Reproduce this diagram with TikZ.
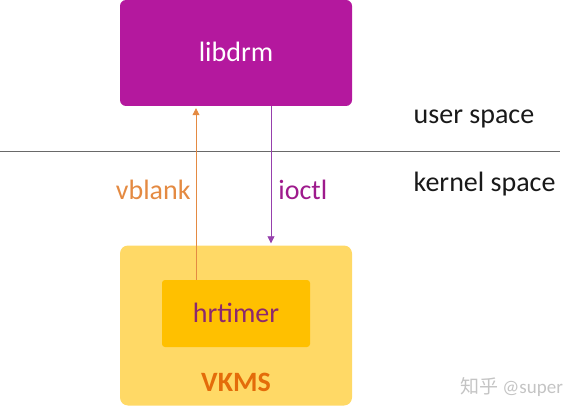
\documentclass[tikz,border=0pt]{standalone}
\usepackage{fontspec}
\setmainfont{Carlito}
\newfontfamily\cjkfont{Noto Sans CJK SC}
\usepackage{tikz}
\usetikzlibrary{arrows,arrows.meta,backgrounds}
\usepackage{xcolor}
\definecolor{drm-magenta}{RGB}{180,24,158}
\definecolor{vkms-yellow}{RGB}{255,217,102}
\definecolor{timer-gold}{RGB}{255,192,0}
\definecolor{vblank-orange}{RGB}{228,138,66}
\definecolor{ioctl-purple}{RGB}{150,64,172}
\definecolor{ioctl-text}{RGB}{158,26,140}
\definecolor{timer-text}{RGB}{140,40,110}
\definecolor{vkms-text}{RGB}{228,108,10}
\definecolor{split-gray}{RGB}{105,105,105}
\definecolor{mark-gray}{RGB}{196,196,196}
\tikzstyle{userbox}=[fill=drm-magenta, rounded corners=6pt, minimum width=232pt, minimum height=106pt, inner sep=0pt]
\tikzstyle{kernelbox}=[fill=vkms-yellow, rounded corners=8pt, minimum width=232pt, minimum height=160pt, inner sep=0pt]
\tikzstyle{timerbox}=[fill=timer-gold, rounded corners=3pt, minimum width=148pt, minimum height=67pt, inner sep=0pt]
\tikzstyle{call}=[-{Triangle[width=7pt,length=7pt]}, shorten >=2pt]
\tikzstyle{label}=[font=\fontsize{28}{30}\selectfont, inner sep=0pt]

\begin{document}
\begin{tikzpicture}[x=1pt,y=-1pt]
	\useasboundingbox (0,0) rectangle (576,417);
	\node[userbox] (libdrm) at (236,53) {};
	\node[kernelbox] (vkms) at (236,325.5) {};
	\node[timerbox] (hrtimer) at (236,313.5) {};
	\node[label, white, anchor=base] (libdrmtext) at (236,62) {libdrm};
	\node[label, timer-text, anchor=base] (hrtimertext) at (236,322.5) {hrtimer};
	\node[label, vkms-text, anchor=base, font=\fontsize{28}{30}\selectfont\bfseries] (vkmstext) at (236,391.5) {VKMS};
	\coordinate (splitL) at (0,151.5);
	\coordinate (splitR) at (560,151.5);
	\draw[split-gray, line width=1.2pt] (splitL) -- (splitR);
	\draw[call, vblank-orange, thick] ([xshift=-40pt]hrtimer.north) -- ([xshift=-40pt]libdrm.south)
		node[label, pos=0.52, left=5pt, vblank-orange] (vblank) {vblank};
	\draw[call, ioctl-purple, thick] ([xshift=35pt]libdrm.south) -- ([xshift=35pt]vkms.north)
		node[label, pos=0.6, right=7pt, ioctl-text] (ioctl) {ioctl};
	\node[label, anchor=base west, black!90] (user) at (413.5,123.3) {user space};
	\node[label, anchor=base west, black!90] (kernel) at (413.5,191.7) {kernel space};
	\node[anchor=base west, inner sep=0pt, mark-gray, font=\fontsize{19}{21}\selectfont] (mark) at (460,393) {{\cjkfont 知乎} @super};
\end{tikzpicture}
\end{document}
